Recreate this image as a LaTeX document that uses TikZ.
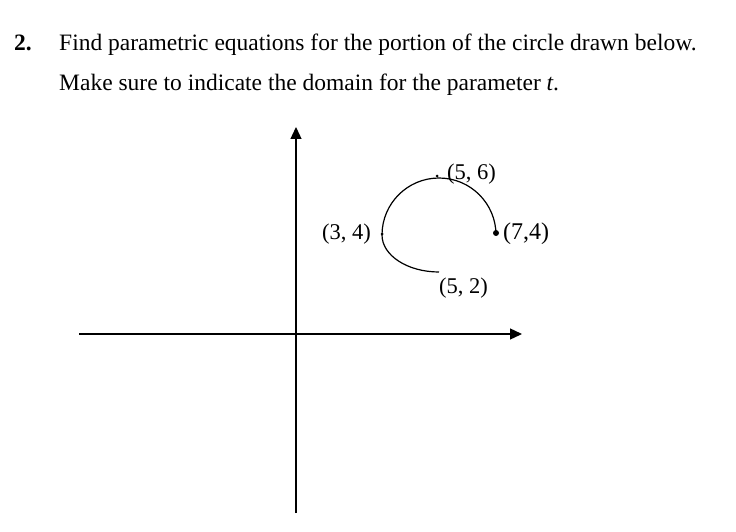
\documentclass[tikz,border=0pt]{standalone}
\usepackage{fontspec}
\setmainfont{Liberation Serif}
\usetikzlibrary{arrows.meta}
\tikzset{
  axis/.style={line width=1.3pt, -{Triangle[length=12pt,width=11pt]}},
  curve/.style={line width=1.2pt},
  txt/.style={anchor=base west, inner sep=0pt, font=\fontsize{23.5}{28}\selectfont},
  lbl/.style={anchor=base west, inner sep=0pt, font=\fontsize{22.5}{27}\selectfont},
  pt/.style={circle, fill=black, inner sep=0pt, minimum size=#1}
}
\begin{document}
\begin{tikzpicture}[x=1pt, y=-1pt]
    \useasboundingbox (0,0) rectangle (736,532);

    % question text
    \node[txt] (num) at (14,51) {\textbf{2.}};
    \node[txt] (line1) at (59,51) {Find parametric equations for the portion of the circle drawn below.};
    \node[txt] (line2) at (59,91) {Make sure to indicate the domain for the parameter \textit{t}.};

    % axes
    \coordinate (xl) at (79,334);
    \coordinate (xr) at (522,334);
    \coordinate (yb) at (296,513);
    \coordinate (yt) at (296,127);
    \draw[axis] (xl) -- (xr);
    \draw[axis] (yb) -- (yt);

    % circle portion
    \coordinate (c) at (439,235);
    \draw[curve] (496,235) arc[start angle=0, end angle=-180, radius=57];
    \draw[curve] (382,235) arc[start angle=180, end angle=90, x radius=57, y radius=37];

    \node[pt=6pt] (p74) at (496,233) {};
    \node[pt=3pt] (p56) at (437,176) {};
    \node[pt=3pt] (p34) at (382,234) {};

    \node[lbl] (l56) at (447,179) {(5, 6)};
    \node[lbl] (l34) at (322,239) {(3, 4)};
    \node[lbl, font=\fontsize{24}{28}\selectfont] (l74) at (503,239) {(7,4)};
    \node[lbl] (l52) at (439,293) {(5, 2)};
\end{tikzpicture}
\end{document}
